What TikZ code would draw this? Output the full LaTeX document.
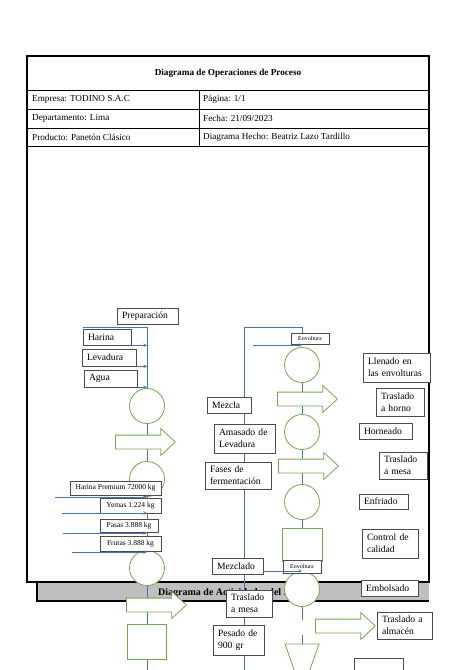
\documentclass[tikz,border=0pt]{standalone}
\usepackage{fontspec}
\setmainfont{Liberation Serif}
\usetikzlibrary{shapes.arrows}
\definecolor{verde}{HTML}{70AD47}
\definecolor{azul}{HTML}{4472C4}
\definecolor{gris}{HTML}{BFBFBF}
\pgfdeclarelayer{fondo}
\pgfdeclarelayer{lineas}
\pgfsetlayers{fondo,lineas,main}

\begin{document}
\begin{tikzpicture}[x=1pt,y=-1pt,>=stealth,
  caja/.style={draw=black!70,fill=white,line width=0.6pt,inner xsep=5pt,inner ysep=1pt,align=left,font=\fontsize{9.6}{12}\selectfont},
  chica/.style={draw=black!70,fill=white,line width=0.6pt,inner sep=0pt,font=\fontsize{7.5}{8}\selectfont},
  envol/.style={chica,font=\fontsize{6}{7}\selectfont},
  op/.style={circle,draw=verde,fill=white,line width=0.8pt,minimum size=35pt,inner sep=0pt},
  insp/.style={rectangle,draw=verde,fill=white,line width=0.8pt,inner sep=0pt},
  flecha/.style={single arrow,draw=verde,fill=white,line width=0.8pt,anchor=tail,minimum height=60pt,inner xsep=0pt,inner ysep=6.5pt,single arrow head extend=6.5pt,single arrow tip angle=85},
  flujo/.style={draw=azul,line width=0.6pt},
  celda/.style={anchor=west,inner sep=0pt,font=\fontsize{9.2}{11}\selectfont}]
\useasboundingbox (0,0) rectangle (474,670);
\clip (0,0) rectangle (474,670);

\begin{pgfonlayer}{fondo}
\fill[white] (0,0) rectangle (474,670);
\fill[gris] (37,582) rectangle (429,601);
\draw[line width=1.2pt] (429,582) -- (37,582) -- (37,601) -- (429,601);
\draw[line width=1.2pt] (27,56) rectangle (429,582);
\foreach \y in {90,109,128,146} \draw[line width=0.9pt] (27,\y) -- (429,\y);
\draw[line width=0.9pt] (199,90) -- (199,146);
\node[celda,font=\bfseries\fontsize{10}{12}\selectfont] (actividades) at (158,593.5) {Diagrama de Actividades del Proceso};
\end{pgfonlayer}

\node[celda,anchor=center,font=\bfseries\fontsize{9.2}{11}\selectfont] (titulo) at (228,73) {Diagrama de Operaciones de Proceso};
\node[celda] (empresa) at (32,99.5) {Empresa: TODINO S.A.C};
\node[celda] (pagina) at (203,99.5) {Página: 1/1};
\node[celda] (depto) at (32,118.5) {Departamento: Lima};
\node[celda] (fecha) at (203,118.5) {Fecha: 21/09/2023};
\node[celda] (producto) at (32,137) {Producto: Panetón Clásico};
\node[celda] (hecho) at (203,137) {Diagrama Hecho: Beatriz Lazo Tardillo};

\coordinate (lt) at (83,327);
\coordinate (lb) at (147,670);
\coordinate (mt) at (244,327);
\coordinate (mb) at (244,670);
\coordinate (ein) at (253,345);
\coordinate (k1) at (302,620);
\coordinate (k2) at (302,635);
\coordinate (tri) at (302,644);
\coordinate (i1) at (55,497);
\coordinate (i2) at (62,513);
\coordinate (i3) at (63,533);
\coordinate (i4) at (72,552);

\node[op] (c1) at (147,406) {};
\node[op] (c2) at (147,479) {};
\node[op] (c3) at (147,568) {};
\node[insp,minimum width=39pt,minimum height=35pt] (s1) at (147,641.5) {};
\node[op] (c4) at (302,365) {};
\node[op] (c5) at (302,432) {};
\node[op] (c6) at (302,502) {};
\node[insp,minimum width=40pt,minimum height=33pt] (s2) at (302,544.5) {};
\node[op] (c7) at (302,589) {};
\draw[verde,line width=0.8pt,fill=white] (285,644) -- (319,644) -- (302,692) -- cycle;

\node[flecha] (a1) at (115,442) {};
\node[flecha] (a2) at (126,605) {};
\node[flecha] (a3) at (277,399) {};
\node[flecha] (a4) at (278,466) {};
\node[flecha] (a5) at (315,626) {};

\node[caja,text width=51pt,minimum height=16pt] (prep) at (147.5,316) {Preparación};
\node[caja,text width=38pt,minimum height=16pt] (harina) at (107,337) {Harina};
\node[caja,text width=44pt,minimum height=17pt] (levadura) at (109,357.5) {Levadura};
\node[caja,text width=43pt,minimum height=17pt] (agua) at (110.5,378.5) {Agua};
\node[chica,minimum width=91pt,minimum height=14pt] (hprem) at (115.5,488) {Harina Premium 72000 kg};
\node[chica,minimum width=61pt,minimum height=15pt] (yemas) at (130.5,505.5) {Yemas 1.224 kg};
\node[chica,minimum width=58pt,minimum height=13pt] (pasas) at (129,525.5) {Pasas 3.888 kg};
\node[chica,minimum width=61pt,minimum height=15pt] (frutas) at (130.5,543.5) {Frutas 3.888 kg};

\node[envol,minimum width=38pt,minimum height=11pt] (env1) at (310,338.5) {Envoltura};
\node[envol,minimum width=38pt,minimum height=13pt] (env2) at (302,566.5) {Envoltura};
\node[caja,text width=34pt,minimum height=16pt] (mezcla) at (229,405) {Mezcla};
\node[caja,text width=51pt,minimum height=29pt] (amasado) at (244.5,438.5) {Amasado de\\Levadura};
\node[caja,text width=56pt,minimum height=27pt] (fases) at (238,475.5) {Fases de\\fermentación};
\node[caja,text width=41pt,minimum height=16pt] (mezclado) at (237.5,566) {Mezclado};
\node[caja,text width=36pt,minimum height=27pt] (trmesa) at (249,603.5) {Traslado\\a mesa};
\node[caja,text width=41pt,minimum height=30pt] (pesado) at (238.5,640) {Pesado de\\900 gr};

\node[caja,text width=57pt,minimum height=29pt] (llenado) at (396.5,367.5) {Llenado en\\las envolturas};
\node[caja,text width=38pt,minimum height=28pt] (trhorno) at (400,402) {Traslado\\a horno};
\node[caja,text width=43pt,minimum height=16pt] (horneado) at (385.5,431) {Horneado};
\node[caja,text width=38pt,minimum height=27pt] (trmesa2) at (403,465.5) {Traslado\\a mesa};
\node[caja,text width=39pt,minimum height=15pt] (enfriado) at (383.5,501.5) {Enfriado};
\node[caja,text width=46pt,minimum height=29pt] (control) at (390,543.5) {Control de\\calidad};
\node[caja,text width=47pt,minimum height=16pt] (embolsado) at (389.5,588) {Embolsado};
\node[caja,text width=45pt,minimum height=27pt] (tralmacen) at (404.5,625.5) {Traslado a\\almacén};
\node[caja,minimum width=49pt,minimum height=24pt] (final) at (378.5,670) {};

\begin{pgfonlayer}{lineas}
\draw[flujo] (lt) -| (c1) (c1) -- (c2) -- (c3) -- (s1) -- (lb);
\draw[flujo,->] (harina.south west) -- (harina.south west -| c1);
\draw[flujo,->] (levadura.south west) -- (levadura.south west -| c1);
\draw[flujo,->] (agua.south west) -- (agua.south west -| c1);
\draw[flujo] (mb) -- (mt) -| (env1.north -| c4);
\draw[flujo] (c4) -- (c5) -- (c6) -- (s2) -- (env2) -- (c7);
\draw[flujo] (c7) -- (k1) (k2) -- (tri);
\end{pgfonlayer}

\draw[flujo,->] (ein) -- (ein -| c4);
\draw[flujo,->] ([yshift=-5pt]mezclado.east) -- ([yshift=-5pt]mezclado.east -| c7);
\foreach \i in {i1,i2,i3,i4} \draw[flujo,->] (\i) -- (\i -| c2);
\end{tikzpicture}
\end{document}
